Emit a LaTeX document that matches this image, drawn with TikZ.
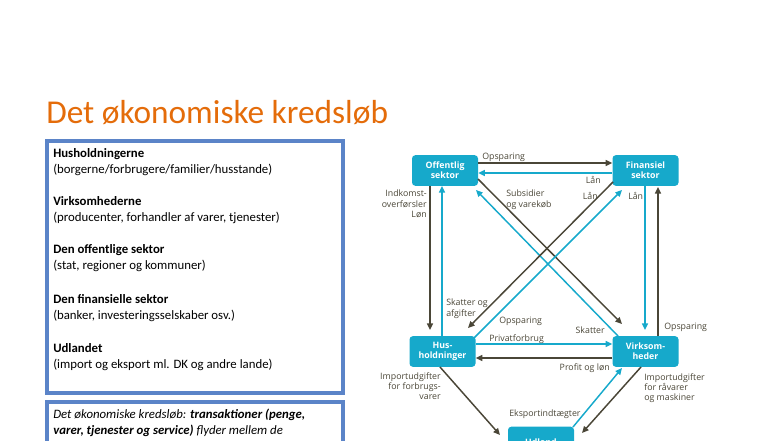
\documentclass[tikz,border=0pt]{standalone}
\usepackage{fontspec}
\setmainfont{Carlito}
\newfontfamily\dfont{Open Sans}
\usetikzlibrary{arrows.meta}
\definecolor{ttl}{HTML}{E46C0A}
\definecolor{bx}{HTML}{5B84C8}
\definecolor{cy}{HTML}{16A9CB}
\definecolor{dk}{HTML}{4A4637}
\begin{document}
\begin{tikzpicture}[x=0.75pt,y=-0.75pt,
  nd/.style={fill=cy,rounded corners=2.5pt,text=white,font=\dfont\fontsize{6.6}{7.6}\selectfont\bfseries,align=center,inner sep=0pt},
  lb/.style={font=\dfont\fontsize{6.6}{7.6}\selectfont,text=dk,inner sep=0pt},
  da/.style={draw=dk,line width=1.1pt,-{Triangle[length=5pt,width=4.5pt]}},
  ca/.style={draw=cy,line width=1.1pt,-{Triangle[length=5pt,width=4.5pt]}},
  bt/.style={font=\fontsize{9.6}{12}\selectfont,anchor=base west,inner sep=0pt}]
\path[use as bounding box] (0,0) rectangle (784,441);
\clip (0,0) rectangle (784,441);
\node[anchor=base west,text=ttl,font=\fontsize{25}{28}\selectfont,inner sep=0pt] (t) at (46,124) {Det økonomiske kredsløb};
\draw[bx,line width=2.6pt] (47,141) rectangle (343,393);
\draw[bx,line width=2.6pt] (47,402) rectangle (343,460);
\node[bt] (a1) at (53,158) {\bfseries Husholdningerne};
\node[bt] (a2) at (53,174) {(borgerne/forbrugere/familier/husstande)};
\node[bt] (a3) at (53,206) {\bfseries Virksomhederne};
\node[bt] (a4) at (53,222) {(producenter, forhandler af varer, tjenester)};
\node[bt] (a5) at (53,254) {\bfseries Den offentlige sektor};
\node[bt] (a6) at (53,270) {(stat, regioner og kommuner)};
\node[bt] (a7) at (53,303) {\bfseries Den finansielle sektor};
\node[bt] (a8) at (53,319) {(banker, investeringsselskaber osv.)};
\node[bt] (a9) at (53,352) {\bfseries Udlandet};
\node[bt] (a10) at (53,368) {(import og eksport ml. DK og andre lande)};
\node[bt] (b1) at (53,418) {\itshape Det økonomiske kredsløb: \bfseries transaktioner (penge,};
\node[bt] (b2) at (53,434) {\itshape\bfseries varer, tjenester og service) \mdseries flyder mellem de};
\node[bt] (b3) at (53,450) {\itshape forskellige aktører i samfundet};
% nodes
\node[nd,minimum width=49.5pt,minimum height=23pt] (off) at (445,170.5) {Offentlig\\sektor};
\node[nd,minimum width=49.5pt,minimum height=23pt] (fin) at (645.5,170.5) {Finansiel\\sektor};
\node[nd,minimum width=49.5pt,minimum height=23pt] (hus) at (442.5,351.5) {Hus-\\holdninger};
\node[nd,minimum width=49.5pt,minimum height=23pt] (vir) at (645.5,351.5) {Virksom-\\heder};
\node[nd,minimum width=49.5pt,minimum height=23pt] (udl) at (541,442) {Udland};
% arrows
\draw[da] (off.east|-0,163) -- (fin.west|-0,163);
\draw[ca] (fin.west|-0,173) -- (off.east|-0,173);
\draw[da] (478,179) -- (622,324);
\draw[ca] (618,336) -- (476,190);
\draw[da] (613,182) -- (468,328);
\draw[ca] (474,338) -- (622,190);
\draw[da] (430,186) -- (430,330);
\draw[ca] (442,336) -- (442,186);
\draw[ca] (645,186) -- (645,330);
\draw[da] (658,336) -- (658,187);
\draw[ca] (hus.east|-0,344) -- (vir.west|-0,344);
\draw[da] (vir.west|-0,358) -- (hus.east|-0,358);
\draw[da] (440,367) -- (500,435);
\draw[ca] (573,427) -- (622,368);
\draw[da] (641,367) -- (582,433);
% labels
\node[lb,anchor=base west] (l1) at (482,160) {Opsparing};
\node[lb,anchor=base east] (l2) at (601,184) {Lån};
\node[lb,align=left,anchor=north west] (l3) at (506,190) {Subsidier\\og varekøb};
\node[lb,anchor=base east] (l4) at (598,200) {Lån};
\node[lb,anchor=base west] (l5) at (628,200) {Lån};
\node[lb,align=right,anchor=north east] (l6) at (427,190) {Indkomst-\\overførsler\\Løn};
\node[lb,align=left,anchor=north west] (l7) at (446,299) {Skatter og\\afgifter};
\node[lb,anchor=base west] (l8) at (499,323) {Opsparing};
\node[lb,anchor=base east] (l9) at (605,333) {Skatter};
\node[lb,anchor=base west] (l10) at (664,329) {Opsparing};
\node[lb,anchor=base west] (l11) at (489,341) {Privatforbrug};
\node[lb,anchor=base east] (l12) at (610,370) {Profit og løn};
\node[lb,align=right,anchor=north east] (l13) at (441,372) {Importudgifter\\for forbrugs-\\varer};
\node[lb,align=left,anchor=north west] (l14) at (644,373) {Importudgifter\\for råvarer\\og maskiner};
\node[lb,anchor=base west] (l15) at (509,416) {Eksportindtægter};
\end{tikzpicture}
\end{document}
